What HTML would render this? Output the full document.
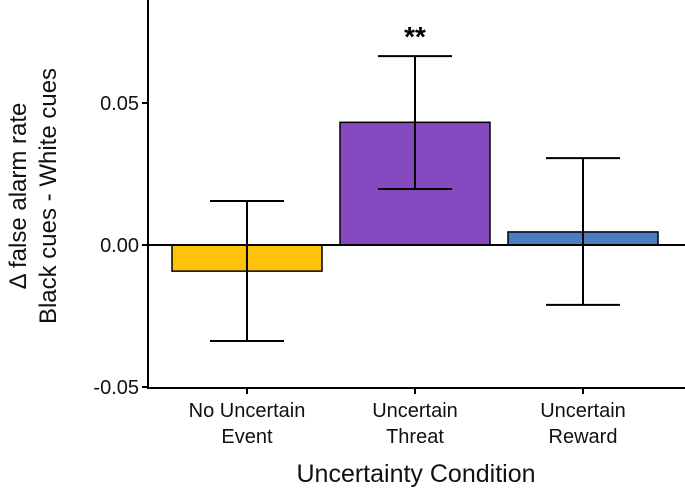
<!DOCTYPE html>
<html><head><meta charset="utf-8"><style>
html,body{margin:0;padding:0;background:#fff;}
svg{display:block;font-family:"Liberation Sans",Arial,sans-serif;}
</style></head><body>
<svg id="chart" width="685" height="494" viewBox="0 0 685 494"></svg>
<script>
const categories = [["No Uncertain","Event"],["Uncertain","Threat"],["Uncertain","Reward"]];
const values = [-0.0092, 0.0432, 0.0046];
const errLow = [-0.0338, 0.0197, -0.0211];
const errHigh = [0.0155, 0.0665, 0.0306];
const colors = ["#FFC20A","#8649C0","#4C7CC0"];
const yTicks = [0.05, 0.00, -0.05];
const yTickLabels = ["0.05","0.00","-0.05"];
const sigLabels = ["","**",""];

const NS="http://www.w3.org/2000/svg";
const svg=document.getElementById('chart');
function y(v){return 245 - v/0.05*142;}
function xc(i){return 247 + i*168;}
const bw=150;
function mk(t,a,p){const e=document.createElementNS(NS,t);for(const k in a)e.setAttribute(k,a[k]);(p||svg).appendChild(e);return e;}

values.forEach((v,i)=>{
  const r=mk('rect',{x:xc(i)-bw/2,y:Math.min(y(v),y(0)),width:bw,height:Math.abs(y(v)-y(0)),fill:colors[i],stroke:'#000','stroke-width':1.5});
  
  
});
const zl=mk('line',{x1:148,x2:685,y1:y(0),y2:y(0),stroke:'#000','stroke-width':2});


values.forEach((v,i)=>{
  const g=mk('g',{stroke:'#000','stroke-width':2});
  
  
  const c=xc(i);
  mk('line',{x1:c,x2:c,y1:y(errHigh[i]),y2:y(errLow[i])},g);
  mk('line',{x1:c-37,x2:c+37,y1:y(errHigh[i]),y2:y(errHigh[i])},g);
  mk('line',{x1:c-37,x2:c+37,y1:y(errLow[i]),y2:y(errLow[i])},g);
  if(sigLabels[i]){
    const t=mk('text',{x:c,y:y(errHigh[i])-10,'text-anchor':'middle','font-size':28,'font-weight':'bold'});
    t.textContent=sigLabels[i];
    
    
  }
});
const ax=mk('line',{x1:148,x2:148,y1:0,y2:389,stroke:'#000','stroke-width':2});


const xax=mk('line',{x1:147,x2:685,y1:388,y2:388,stroke:'#000','stroke-width':2});


yTicks.forEach((v,i)=>{
  mk('line',{x1:142,x2:148,y1:y(v),y2:y(v),stroke:'#000','stroke-width':2});
  const t=mk('text',{x:139,y:y(v)+7,'text-anchor':'end','font-size':20,fill:'#111'});
  t.textContent=yTickLabels[i];
  
  
});
categories.forEach((c,i)=>{
  mk('line',{x1:xc(i),x2:xc(i),y1:388,y2:394,stroke:'#000','stroke-width':2});
  const t=mk('text',{x:xc(i),y:417,'text-anchor':'middle','font-size':20,fill:'#111'});
  
  
  c.forEach((line,j)=>{mk('tspan',{x:xc(i),dy:j?26:0},t).textContent=line;});
});
const xt=mk('text',{x:416,y:482,'text-anchor':'middle','font-size':25,fill:'#111'});
xt.textContent='Uncertainty Condition';


const yt=mk('text',{transform:'translate(0,196) rotate(-90)','text-anchor':'middle','font-size':24,fill:'#111'});


mk('tspan',{x:0,y:26},yt).textContent='Δ false alarm rate';
mk('tspan',{x:0,y:56},yt).textContent='Black cues - White cues';
</script>
</body></html>
